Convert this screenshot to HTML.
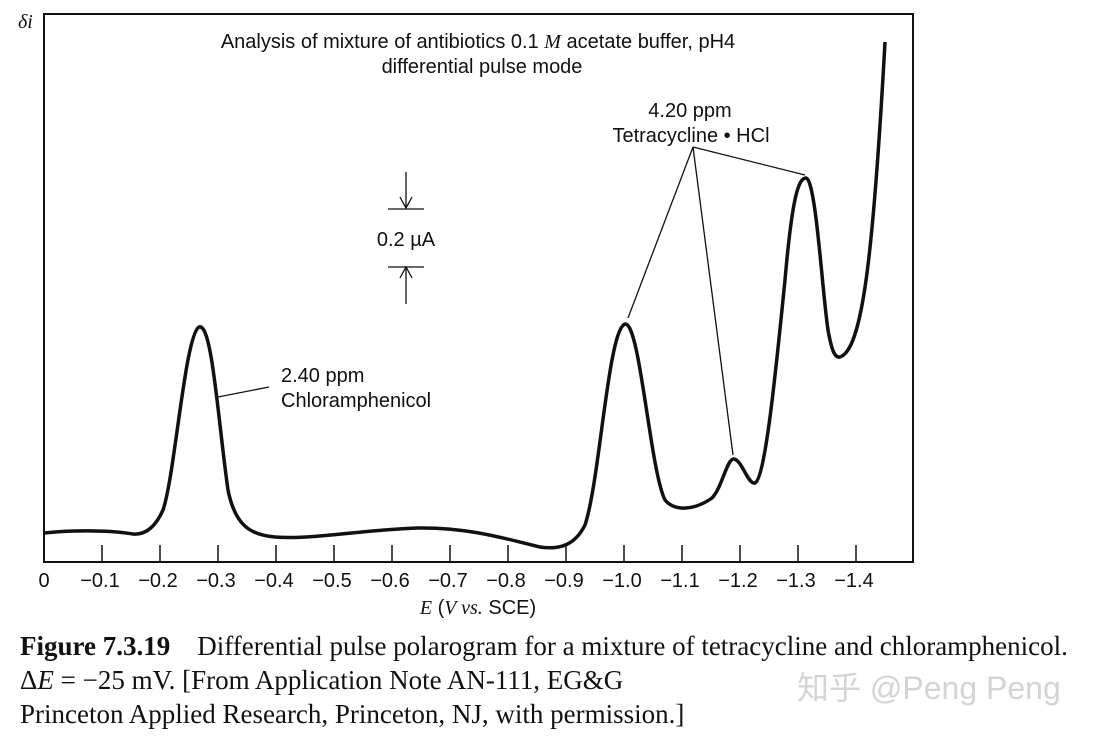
<!DOCTYPE html><html><head><meta charset="utf-8"><style>
body{margin:0;background:#fff;width:1094px;height:740px;overflow:hidden;position:relative}
svg{position:absolute;left:0;top:0}
.cap{position:absolute;left:20px;font-family:"Liberation Serif",serif;font-size:27px;line-height:34px;color:#111;white-space:nowrap}
</style></head><body>
<svg width="1094" height="740" font-family="Liberation Sans, sans-serif" fill="#111">
<rect x="44" y="14" width="869" height="548" fill="none" stroke="#111" stroke-width="2"/>
<g stroke="#111" stroke-width="1.5">
<line x1="102" y1="545" x2="102" y2="562"/><line x1="160" y1="545" x2="160" y2="562"/><line x1="218" y1="545" x2="218" y2="562"/><line x1="276" y1="545" x2="276" y2="562"/><line x1="334" y1="545" x2="334" y2="562"/><line x1="392" y1="545" x2="392" y2="562"/><line x1="450" y1="545" x2="450" y2="562"/><line x1="508" y1="545" x2="508" y2="562"/><line x1="566" y1="545" x2="566" y2="562"/><line x1="624" y1="545" x2="624" y2="562"/><line x1="682" y1="545" x2="682" y2="562"/><line x1="740" y1="545" x2="740" y2="562"/><line x1="798" y1="545" x2="798" y2="562"/><line x1="856" y1="545" x2="856" y2="562"/>
</g>
<g font-size="20" text-anchor="middle">
<text x="44" y="587">0</text><text x="100" y="587">−0.1</text><text x="158" y="587">−0.2</text><text x="216" y="587">−0.3</text><text x="274" y="587">−0.4</text><text x="332" y="587">−0.5</text><text x="390" y="587">−0.6</text><text x="448" y="587">−0.7</text><text x="506" y="587">−0.8</text><text x="564" y="587">−0.9</text><text x="622" y="587">−1.0</text><text x="680" y="587">−1.1</text><text x="738" y="587">−1.2</text><text x="796" y="587">−1.3</text><text x="854" y="587">−1.4</text>
<text x="478" y="614"><tspan font-family="Liberation Serif" font-style="italic">E</tspan> (<tspan font-family="Liberation Serif" font-style="italic">V vs.</tspan> SCE)</text>
<text x="478" y="48">Analysis of mixture of antibiotics 0.1 <tspan font-family="Liberation Serif" font-style="italic">M</tspan> acetate buffer, pH4</text>
<text x="482" y="73">differential pulse mode</text>
<text x="690" y="117">4.20 ppm</text>
<text x="691" y="142">Tetracycline • HCl</text>
<text x="406" y="246">0.2 µA</text>
</g>
<text x="18" y="28" font-family="Liberation Serif" font-size="20" font-style="italic">δi</text>
<g font-size="20"><text x="281" y="382">2.40 ppm</text><text x="281" y="407">Chloramphenicol</text></g>
<g stroke="#111" stroke-width="1.3" fill="none">
<line x1="693" y1="147" x2="628" y2="318"/><line x1="693" y1="147" x2="733" y2="455"/><line x1="693" y1="147" x2="805" y2="175"/>
<line x1="218" y1="397" x2="269" y2="387"/>
<line x1="406" y1="172" x2="406" y2="208"/><path d="M400 197 L406 208 L412 197"/><line x1="388" y1="209" x2="424" y2="209"/>
<line x1="388" y1="267" x2="424" y2="267"/><line x1="406" y1="267" x2="406" y2="304"/><path d="M400 278 L406 267 L412 278"/>
</g>
<path fill="none" stroke="#111" stroke-width="3.5" stroke-linejoin="round" d="M44 533 C70 530 110 530 133 534 C145 535 155 528 163 510 C175 475 185 335 199 327 C212 322 218 420 228 490 C235 525 250 535 275 537 C310 540 360 530 417 528 C470 527 510 540 540 547 C560 550 575 545 585 525 C600 480 608 330 625 324 C640 322 650 470 665 500 C675 512 695 510 712 498 C722 488 727 458 734 459 C742 460 748 485 755 483 C765 478 775 380 785 280 C792 200 798 178 806 178 C816 180 822 290 828 330 C832 352 835 358 840 357 C862 350 873 260 885 42"/>
<text x="797" y="699" font-family="Liberation Sans, Noto Sans CJK SC, sans-serif" font-size="32" fill="#d4d4d4">知乎 @Peng Peng</text>
</svg>
<div class="cap" style="top:629px"><b>Figure 7.3.19</b>&nbsp;&nbsp;&nbsp;&nbsp;Differential pulse polarogram for a mixture of tetracycline and chloramphenicol.</div>
<div class="cap" style="top:663px">Δ<i>E</i> = −25 mV. [From Application Note AN-111, EG&amp;G</div>
<div class="cap" style="top:697px">Princeton Applied Research, Princeton, NJ, with permission.]</div>
</body></html>
